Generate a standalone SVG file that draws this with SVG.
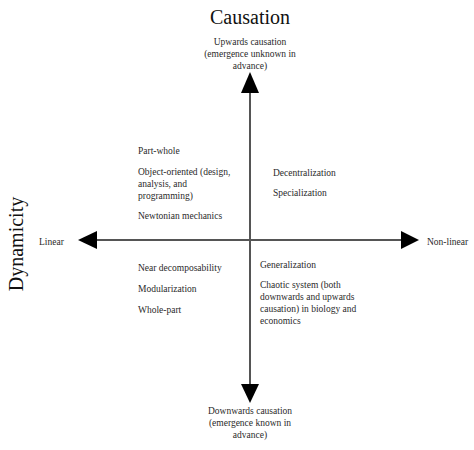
<svg xmlns="http://www.w3.org/2000/svg" width="474" height="450" viewBox="0 0 474 450">
<style>
text{font-family:"Liberation Serif","Times New Roman",serif;fill:#2a2a2a}
.s{font-size:9.5px}
.c{text-anchor:middle}
.t{font-size:20px;fill:#111}
.ax{stroke:#555;stroke-width:2;fill:none}
.ah{fill:#000}
</style>
<rect width="474" height="450" fill="#fff"/>
<text class="t c" x="250" y="24">Causation</text>
<text class="t c" transform="translate(23,244) rotate(-90)">Dynamicity</text>
<g id="connectors">
<line class="ax" x1="250" y1="90" x2="250" y2="387"/>
<line class="ax" x1="95" y1="240" x2="404" y2="240"/>
<polygon class="ah" points="250,72 241,93 259,93"/>
<polygon class="ah" points="250,403 241,384 259,384"/>
<polygon class="ah" points="78,240 97,231 97,249"/>
<polygon class="ah" points="419,240 401,231 401,249"/>
</g>
<g id="up"><text class="s c" x="250" y="45">Upwards causation</text><text class="s c" x="250" y="57">(emergence unknown in</text><text class="s c" x="250" y="69">advance)</text></g>
<g id="down"><text class="s c" x="250" y="414">Downwards causation</text><text class="s c" x="250" y="426">(emergence known in</text><text class="s c" x="250" y="438">advance)</text></g>
<g id="linear"><text class="s" x="39" y="245">Linear</text></g>
<g id="nonlinear"><text class="s" x="427" y="245">Non-linear</text></g>
<g id="q2">
<text class="s" x="138" y="154">Part-whole</text>
<text class="s" x="138" y="175">Object-oriented (design,</text>
<text class="s" x="138" y="187">analysis, and</text>
<text class="s" x="138" y="199">programming)</text>
<text class="s" x="138" y="219">Newtonian mechanics</text>
</g>
<g id="q1">
<text class="s" x="273" y="176">Decentralization</text>
<text class="s" x="273" y="196">Specialization</text>
</g>
<g id="q3">
<text class="s" x="138" y="271">Near decomposability</text>
<text class="s" x="138" y="292">Modularization</text>
<text class="s" x="138" y="313">Whole-part</text>
</g>
<g id="q4">
<text class="s" x="260" y="268">Generalization</text>
<text class="s" x="260" y="288">Chaotic system (both</text>
<text class="s" x="260" y="300">downwards and upwards</text>
<text class="s" x="260" y="312">causation) in biology and</text>
<text class="s" x="260" y="324">economics</text>
</g>
</svg>
